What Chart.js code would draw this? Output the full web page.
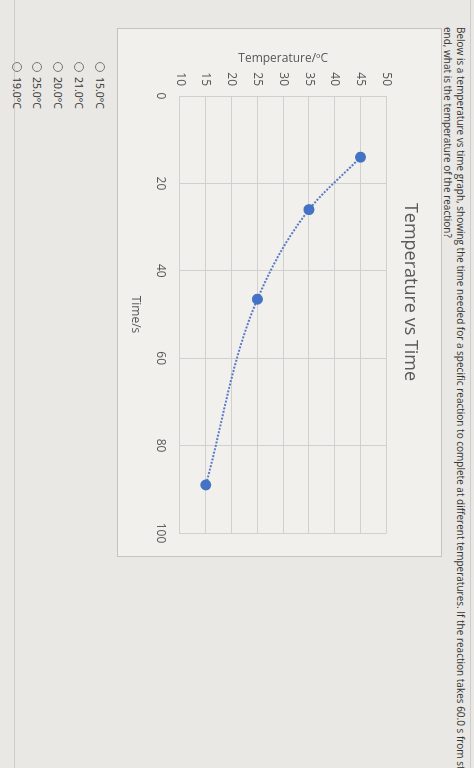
<!DOCTYPE html>
<html><head><meta charset="utf-8">
<script src="https://cdn.jsdelivr.net/npm/chart.js@4"></script>
<style>
html,body{margin:0;padding:0;width:474px;height:768px;overflow:hidden;background:#e9e8e4;}
#rot{position:absolute;left:0;top:0;width:768px;height:474px;transform-origin:0 0;transform:translate(474px,0) rotate(90deg);font-family:"Open Sans",sans-serif;color:#333;}
#q{position:absolute;left:27px;top:7px;font-size:10px;line-height:13px;white-space:nowrap;}
#box{position:absolute;left:28px;top:32px;width:529px;height:325px;background:#f1f0ed;border:1px solid #c4c4c2;box-sizing:border-box;}
.opt{position:absolute;left:62px;font-size:10.5px;}
.opt span{display:inline-block;width:8px;height:8px;border:1px solid #777;border-radius:50%;margin-right:5px;vertical-align:-1px;}
#ln1{position:absolute;left:0;top:3px;width:768px;height:1px;background:#ccc;}
#ln2{position:absolute;left:0;top:459px;width:768px;height:1px;background:#ccc;}
</style></head>
<body>
<div id="rot">
<div id="ln1"></div><div id="ln2"></div>
<div id="q">Below is a temperature vs time graph, showing the time needed for a specific reaction to complete at different temperatures. If the reaction takes 60.0 s from start to<br>end, what is the temperature of the reaction?</div>
<div id="box"><canvas id="c" width="529" height="325"></canvas></div>
<div class="opt" style="top:367px"><span></span>15.0°C</div>
<div class="opt" style="top:388px"><span></span>21.0°C</div>
<div class="opt" style="top:409px"><span></span>20.0°C</div>
<div class="opt" style="top:430px"><span></span>25.0°C</div>
<div class="opt" style="top:450px"><span></span>19.0°C</div>
</div>
<script>
const times = [14, 26, 46.5, 89];
const temps = [45, 35, 25, 15];
const xTicks = [0, 20, 40, 60, 80, 100];
const yTicks = [10, 15, 20, 25, 30, 35, 40, 45, 50];
const grey = '#595959';
new Chart(document.getElementById('c'), {
  type: 'scatter',
  data: { datasets: [{
    data: times.map((t, i) => ({x: t, y: temps[i]})),
    showLine: true, borderColor: '#5b7cc4', borderWidth: 2, borderDash: [2, 1.5],
    cubicInterpolationMode: 'monotone',
    pointRadius: 4.5, pointBackgroundColor: '#4472c4', pointBorderColor: '#4472c4'
  }]},
  options: {
    responsive: false, animation: false,
    layout: { padding: { left: 22, right: 25, top: 0, bottom: 10 } },
    plugins: {
      legend: { display: false }, tooltip: { enabled: false },
      title: { display: true, text: 'Temperature vs Time', color: grey,
        font: { family: 'Open Sans', size: 18, weight: 'normal' }, padding: { top: 20, bottom: 13 } }
    },
    scales: {
      x: { type: 'linear', min: 0, max: 100,
        afterBuildTicks: s => { s.ticks = xTicks.map(v => ({value: v})); },
        afterFit: s => { s.height = 54; },
        grid: { color: '#d0d0ce', drawTicks: false }, border: { color: '#d0d0ce' },
        ticks: { color: grey, font: { family: 'Open Sans', size: 12 }, padding: 12 },
        title: { display: true, text: 'Time/s', color: grey, font: { family: 'Open Sans', size: 12 }, padding: 2 } },
      y: { min: 10, max: 50,
        afterBuildTicks: s => { s.ticks = yTicks.map(v => ({value: v})); },
        afterFit: s => { s.width = 45; },
        grid: { color: '#d0d0ce', drawTicks: false }, border: { color: '#d0d0ce' },
        ticks: { color: grey, font: { family: 'Open Sans', size: 12 }, padding: 10 },
        title: { display: true, text: 'Temperature/ºC', color: grey, font: { family: 'Open Sans', size: 12 }, padding: 0 } }
    }
  }
});
</script>
</body></html>
